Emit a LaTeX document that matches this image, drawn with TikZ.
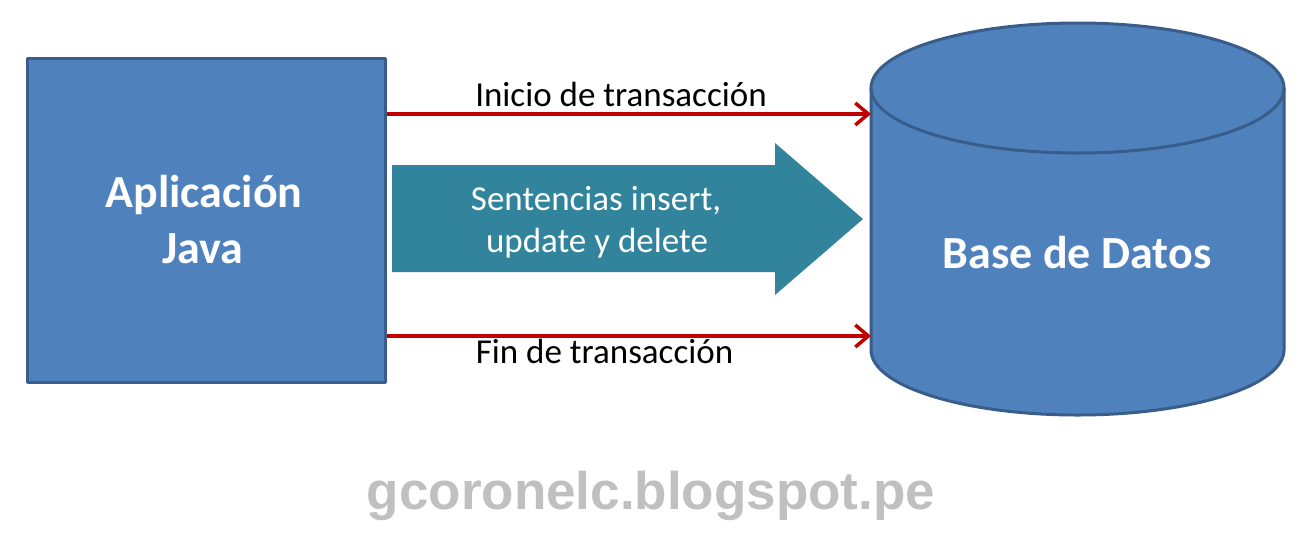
\documentclass[tikz,border=0pt]{standalone}
\usepackage{fontspec}
\setmainfont{Carlito}
\newfontfamily\wmfont{Liberation Sans}
\usetikzlibrary{arrows.meta,calc}
\definecolor{boxblue}{HTML}{4F81BD}
\definecolor{boxedge}{HTML}{385D8A}
\definecolor{arrred}{HTML}{C00000}
\definecolor{teal}{HTML}{31849B}
\definecolor{wmgray}{HTML}{C0C0C0}
\tikzset{
  shapebox/.style={fill=boxblue,draw=boxedge,line width=3pt,line join=round},
  redarrow/.style={draw=arrred,line width=3.5pt,-{Straight Barb[length=13pt,width=22pt,line width=3.5pt]}},
  lbl/.style={anchor=base,inner sep=0pt,font=\fontsize{35}{42}\selectfont},
  wlbl/.style={anchor=base,inner sep=0pt,text=white,font=\fontsize{46}{56}\selectfont\bfseries},
}
\begin{document}
\begin{tikzpicture}[x=1pt,y=-1pt]
\useasboundingbox[fill=white] (0,0) rectangle (1313,550);
% application box
\node[shapebox,rectangle,minimum width=358pt,minimum height=324pt,inner sep=0pt,anchor=north west] (app) at (26,57) {};
\node[wlbl] (apptxt1) at (204,207) {Aplicación};
\node[wlbl] (apptxt2) at (203,263) {Java};
% database cylinder
\fill[boxblue] (871,88) -- (871,350) arc[start angle=180,end angle=0,x radius=206.5,y radius=65] -- (1284,88) arc[start angle=0,end angle=-180,x radius=206.5,y radius=65] -- cycle;
\draw[boxedge,line width=3pt] (871,88) -- (871,350) arc[start angle=180,end angle=0,x radius=206.5,y radius=65] -- (1284,88);
\draw[boxedge,line width=3pt] (1077.5,88) ellipse[x radius=206.5,y radius=65];
\node[inner sep=0pt,minimum width=413pt,minimum height=392pt,anchor=north west] (db) at (871,23) {};
\node[wlbl] (dbtxt) at (1077,268) {Base de Datos};
% connectors
\coordinate (y1) at (0,114);
\coordinate (y2) at (0,336);
\draw[redarrow] (app.east |- y1) -- (db.west |- y1);
\draw[redarrow] (app.east |- y2) -- (db.west |- y2);
\node[lbl] (inicio) at (621,106) {Inicio de transacción};
\node[lbl] (fin) at (604.5,363) {Fin de transacción};
% big arrow
\fill[teal] (392,165) -- (775,165) -- (775,143) -- (863,219) -- (775,295) -- (775,272) -- (392,272) -- cycle;
\node[lbl,text=white] (s1) at (596,210) {Sentencias insert,};
\node[lbl,text=white] (s2) at (597,252) {update y delete};
% watermark
\node[anchor=base,inner sep=0pt,text=wmgray,font=\wmfont\fontsize{53}{60}\selectfont\bfseries] (wm) at (651,509) {gcoronelc.blogspot.pe};
\end{tikzpicture}
\end{document}
